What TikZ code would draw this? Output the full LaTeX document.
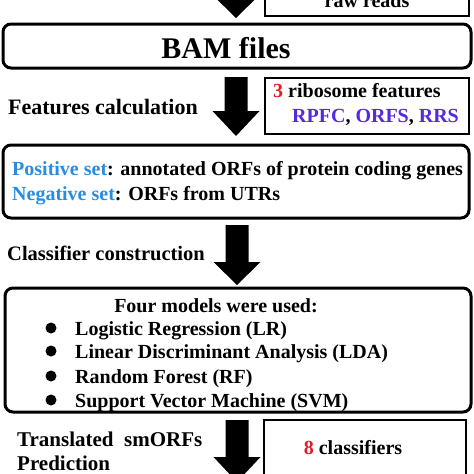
\documentclass[tikz,border=0pt]{standalone}
\usepackage{fontspec}
\setmainfont{Liberation Serif}
\definecolor{myred}{RGB}{225,30,40}
\definecolor{mypurple}{RGB}{85,40,225}
\definecolor{myblue}{RGB}{40,140,225}
\newcommand{\blockarrow}[4]{%
  \fill[black] (#1-11.5,#2) -- (#1+11.5,#2) -- (#1+11.5,#3) -- (#1+23.5,#3)
    -- (#1,#4) -- (#1-23.5,#3) -- (#1-11.5,#3) -- cycle;}
\begin{document}
\begin{tikzpicture}[x=1pt,y=-1pt,
  txt/.style={inner sep=0pt,anchor=base west,font=\bfseries\fontsize{20}{24}\selectfont},
  lbl/.style={inner sep=0pt,anchor=base west,font=\bfseries\fontsize{21}{25}\selectfont},
  rbox/.style={draw=black,line width=3pt,rounded corners=8pt},
  sbox/.style={draw=black,line width=2.5pt}]
\useasboundingbox (0,0) rectangle (474,474);
\clip (0,0) rectangle (474,474);
\fill[white] (0,0) rectangle (474,474);
% top
\blockarrow{236}{-30}{-5}{18}
\draw[sbox] (265,-10) rectangle (469,16);
\node[txt,anchor=base] (raw) at (367,7) {raw reads};
% BAM
\draw[rbox] (3,24) rectangle (471,68);
\node[inner sep=0pt,anchor=base,font=\bfseries\fontsize{30}{34}\selectfont] (bam) at (226,58) {BAM files};
% features
\blockarrow{236}{77}{111}{136}
\node[lbl,font=\bfseries\fontsize{22}{26}\selectfont] (feat) at (8,114) {Features calculation};
\draw[sbox] (265,78) rectangle (469,134);
\node[txt] (rib) at (273,97) {\textcolor{myred}{3} ribosome features};
\node[txt] (rpfc) at (292,122) {\textcolor{mypurple}{RPFC}, \textcolor{mypurple}{ORFS}, \textcolor{mypurple}{RRS}};
% sets
\draw[rbox] (3,145) rectangle (469,218);
\node[txt] (pos) at (12,175) {\textcolor{myblue}{Positive set}: annotated ORFs of protein coding genes};
\node[txt] (neg) at (12,200) {\textcolor{myblue}{Negative set}: ORFs from UTRs};
% classifier
\blockarrow{237}{225}{262}{285}
\node[lbl,font=\bfseries\fontsize{20.5}{25}\selectfont] (cls) at (7,260) {Classifier construction};
\draw[rbox] (5,288) rectangle (471,412);
\node[txt,anchor=base] (four) at (216,312) {Four models were used:};
\foreach \yy/\tt in {335/Logistic Regression (LR),358/Linear Discriminant Analysis (LDA),383/Random Forest (RF),407/Support Vector Machine (SVM)}{
  \fill (51,\yy-7) circle (5.5);
  \node[txt] at (75,\yy) {\tt};
}
% prediction
\blockarrow{237}{420}{457}{482}
\node[lbl] (tr) at (17,446) {Translated\ \ smORFs};
\node[lbl] (pr) at (17,470) {Prediction};
\draw[sbox] (264,420) rectangle (466,490);
\node[txt,anchor=base] (eight) at (353,454) {\textcolor{myred}{8} classifiers};
\end{tikzpicture}
\end{document}
